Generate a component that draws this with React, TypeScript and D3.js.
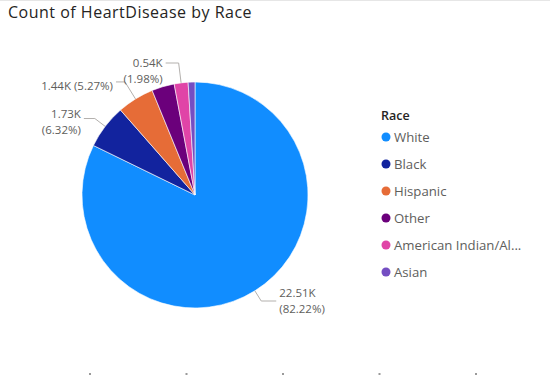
// @ts-nocheck
import * as d3 from "d3";

const races = ["White", "Black", "Hispanic", "Other", "American Indian/Alaskan Native", "Asian"];
const counts = [22507, 1729, 1443, 886, 542, 266];
const legendLabels = ["White", "Black", "Hispanic", "Other", "American Indian/Al...", "Asian"];
const colors = ["#118DFF", "#12239E", "#E66C37", "#6B007B", "#E044A7", "#744EC2"];

const width = 550;
const height = 388;
const cx = 195;
const cy = 195;
const radius = 113;

// label layout per slice (only the ones power bi actually shows)
const labelLayout = {
  0: { elbow: 125, len: 15, lines: 2, shift: 0 },
  1: { elbow: 126, len: 11, lines: 2, shift: 3 },
  2: { elbow: 133, len: 9, lines: 1, shift: 4 },
  4: { elbow: 133, len: 13, lines: 2, shift: 8 },
};

const font = "'Segoe UI', 'Open Sans', sans-serif";

export default function App() {
  const total = d3.sum(counts);
  const pie = d3.pie<number>().sort(null).value((d) => d)(counts);
  const arc = d3.arc().innerRadius(0).outerRadius(radius);
  const color = d3.scaleOrdinal(races, colors);
  const legendY = d3.scalePoint(legendLabels, [137, 272]);
  const dots = d3.scalePoint(d3.range(5), [90, 476]);

  const fmtK = (v) => (v / 1000).toFixed(2) + "K";
  const fmtP = (v) => "(" + ((v / total) * 100).toFixed(2) + "%)";

  return (
    <svg width={width} height={height} style={{ position: "absolute", left: 0, top: 0, background: "#fff" }}>
      <line x1={0} x2={width} y1={0.5} y2={0.5} stroke="#e6e6e6" />
      <text x={8} y={18} fontFamily="'DIN', 'Open Sans', sans-serif" fontSize={16} letterSpacing={0.5} fill="#252423">
        Count of HeartDisease by Race
      </text>

      <g transform={`translate(${cx},${cy})`}>
        {pie.map((p, i) => (
          <path key={i} d={arc(p)} fill={color(races[i])} stroke="#fff" strokeWidth={0.6} />
        ))}
        {pie.map((p, i) => {
          const cfg = labelLayout[i];
          if (!cfg) return null;
          const mid = (p.startAngle + p.endAngle) / 2;
          const sx = Math.sin(mid), sy = -Math.cos(mid);
          const x0 = sx * radius, y0 = sy * radius;
          const x1 = sx * cfg.elbow, y1 = sy * cfg.elbow;
          const left = mid > Math.PI;
          const x2 = x1 + (left ? -cfg.len : cfg.len);
          const tx = x2 + (left ? -3 : 3);
          const anchor = left ? "end" : "start";
          const lines = cfg.lines === 2 ? [fmtK(p.value), fmtP(p.value)] : [fmtK(p.value) + " " + fmtP(p.value)];
          const lh = 16;
          const top = y1 + cfg.shift - ((lines.length - 1) * lh) / 2;
          return (
            <g key={"l" + i}>
              <polyline points={`${x0},${y0} ${x1},${y1} ${x2},${y1}`} fill="none" stroke="#b3b0ad" strokeWidth={1} />
              {lines.map((t, j) => (
                <text key={j} x={tx} y={top + j * lh} dy="0.35em" textAnchor={anchor} fontFamily={font} fontSize={11.5} fill="#605E5C">
                  {t}
                </text>
              ))}
            </g>
          );
        })}
      </g>

      <g>
        <text x={381} y={120} fontFamily={font} fontSize={12.5} fontWeight={600} fill="#252423">Race</text>
        {legendLabels.map((l, i) => (
          <g key={l} transform={`translate(0,${legendY(l)})`}>
            <circle cx={386} cy={0} r={4.5} fill={colors[i]} />
            <text x={394} y={0} dy="0.35em" fontFamily={font} fontSize={13.2} fill="#605E5C">{l}</text>
          </g>
        ))}
      </g>

      {d3.range(5).map((d) => (
        <rect key={d} x={dots(d) - 1} y={373} width={2} height={2} fill="#9a9a9a" />
      ))}
    </svg>
  );
}
